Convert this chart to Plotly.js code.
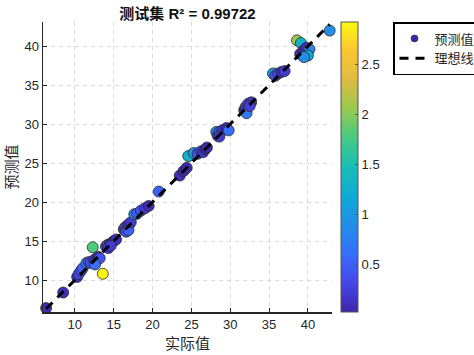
<!DOCTYPE html>
<html><head><meta charset="utf-8">
<script src="https://cdn.plot.ly/plotly-3.0.1.min.js"></script>
<style>body{margin:0;background:#fff}</style>
</head><body><div id="chart" style="width:474px;height:355px"></div>
<script>
const actual = [6.3, 8.5, 10.3, 10.5, 10.8, 11.0, 11.5, 11.8, 12.0, 12.5, 12.8, 13.0, 13.2, 12.6, 12.3, 13.6,
  14.0, 14.2, 14.5, 14.8, 15.0, 15.3, 14.3, 14.6, 16.3, 16.5, 16.8, 17.0, 16.6, 16.9, 17.2, 17.65,
  18.0, 18.5, 19.0, 19.5, 20.8, 23.5, 24.0, 24.4, 24.6, 25.3, 25.8, 26.2, 26.5, 26.8, 27.0,
  28.2, 28.4, 28.6, 29.0, 29.5, 29.8, 28.6, 31.8, 32.0, 32.3, 32.7, 32.1, 32.5,
  35.5, 35.8, 36.2, 36.6, 37.0, 38.6, 39.1, 39.0, 39.5, 39.8, 40.2, 40.0, 39.5, 42.8];
const predicted = [6.4, 8.4, 10.4, 10.8, 11.2, 11.5, 12.2, 12.3, 12.2, 12.6, 12.5, 13.0, 12.8, 12.0, 14.2, 10.8,
  14.3, 14.5, 14.6, 14.8, 15.0, 15.2, 14.1, 14.4, 16.5, 16.8, 17.0, 17.2, 16.2, 16.4, 17.4, 18.45,
  18.5, 18.9, 19.2, 19.5, 21.35, 23.4, 24.0, 24.4, 25.9, 26.3, 26.2, 26.5, 26.4, 26.8, 27.0,
  29.0, 28.5, 29.0, 29.2, 29.5, 29.2, 28.4, 31.8, 32.2, 32.6, 32.8, 31.4, 32.3,
  36.5, 36.2, 36.5, 36.7, 36.8, 40.75, 40.4, 39.0, 39.5, 39.8, 39.6, 38.8, 38.6, 42.0];
const absError = [0.1, 0.1, 0.1, 0.3, 0.4, 0.5, 0.8, 0.5, 0.3, 0.15, 0.3, 0.05, 0.4, 0.6, 1.8, 2.9,
  0.3, 0.3, 0.1, 0.05, 0.05, 0.1, 0.2, 0.2, 0.2, 0.3, 0.2, 0.2, 0.4, 0.5, 0.2, 0.9,
  0.5, 0.4, 0.2, 0.05, 0.5, 0.1, 0.05, 0.05, 1.3, 1.0, 0.4, 0.3, 0.15, 0.05, 0.05,
  0.9, 0.2, 0.4, 0.2, 0.05, 0.6, 0.2, 0.05, 0.2, 0.3, 0.15, 0.7, 0.25,
  1.0, 0.4, 0.3, 0.1, 0.2, 2.1, 1.3, 0.05, 0.05, 0.1, 0.8, 1.2, 0.9, 0.9];
const idealLine = [6.3, 42.8];
const seriesNames = ['预测值', '理想线'];

const parula = [
  [0.00, 'rgb(62,38,168)'], [0.10, 'rgb(70,70,232)'], [0.20, 'rgb(55,110,250)'],
  [0.30, 'rgb(33,142,232)'], [0.40, 'rgb(15,170,215)'], [0.50, 'rgb(25,190,180)'],
  [0.60, 'rgb(70,202,130)'], [0.70, 'rgb(150,202,80)'], [0.80, 'rgb(222,187,65)'],
  [0.90, 'rgb(253,196,50)'], [1.00, 'rgb(249,251,14)']];

const traces = [
  {x: actual, y: predicted, type: 'scatter', mode: 'markers', name: seriesNames[0], cliponaxis: false,
   showlegend: false,
   marker: {size: 11, color: absError, colorscale: parula, cmin: 0.02, cmax: 2.93,
     line: {color: '#2a2a2a', width: 0.8},
     colorbar: {x: 1.031, xanchor: 'left', xpad: 0, ypad: 0, y: 0.5, yanchor: 'middle', len: 1, lenmode: 'fraction',
       thickness: 17, thicknessmode: 'pixels', outlinewidth: 1, outlinecolor: '#555',
       tickvals: [0.5, 1, 1.5, 2, 2.5], ticktext: ['0.5', '1', '1.5', '2', '2.5'],
       ticks: 'inside', ticklen: 3, tickcolor: '#555',
       tickfont: {family: 'Liberation Sans, Arial, sans-serif', size: 13, color: '#262626'}}}},
  {x: [null], y: [null], type: 'scatter', mode: 'markers', name: seriesNames[0], showlegend: true,
   marker: {size: 7, color: 'rgb(62,38,168)', line: {color: '#2a2a2a', width: 0.6}}},
  {x: idealLine, y: idealLine, type: 'scatter', mode: 'lines', name: seriesNames[1],
   line: {color: '#000', width: 3, dash: '9px,7px'}}
];

const axisFont = {family: 'Liberation Sans, Arial, sans-serif', size: 13, color: '#262626'};
const layout = {
  width: 474, height: 355, paper_bgcolor: '#fff', plot_bgcolor: '#fff',
  margin: {l: 43, r: 142, t: 22, b: 43},
  title: {text: '<b>测试集 R² = 0.99722</b>', x: (43 + 289 / 2) / 474, xanchor: 'center', y: 0.962, yanchor: 'middle',
    font: {family: 'Liberation Sans, Noto Sans CJK SC, sans-serif', size: 15, color: '#111'}},
  xaxis: {range: [5.9, 43.1], tickvals: [10, 15, 20, 25, 30, 35, 40], showgrid: true,
    gridcolor: '#d9d9d9', griddash: '4px,4px', gridwidth: 1, zeroline: false,
    showline: true, linecolor: '#262626', linewidth: 1.5, ticks: 'inside', ticklen: 4, tickcolor: '#262626',
    tickfont: axisFont,
    title: {text: '实际值', font: {family: 'Noto Sans CJK SC, sans-serif', size: 15, color: '#262626'}, standoff: 7}},
  yaxis: {range: [5.9, 43.1], tickvals: [10, 15, 20, 25, 30, 35, 40], showgrid: true,
    gridcolor: '#d9d9d9', griddash: '4px,4px', gridwidth: 1, zeroline: false,
    showline: true, linecolor: '#262626', linewidth: 1.5, ticks: 'inside', ticklen: 4, tickcolor: '#262626',
    tickfont: axisFont,
    title: {text: '预测值', font: {family: 'Noto Sans CJK SC, sans-serif', size: 15, color: '#262626'}, standoff: 6}},
  showlegend: true,
  legend: {xref: 'container', yref: 'container', x: 393 / 474, xanchor: 'left', y: 1 - 22 / 355, yanchor: 'top',
    bordercolor: '#000', borderwidth: 1.5,
    bgcolor: '#fff', font: {family: 'Noto Sans CJK SC, sans-serif', size: 13, color: '#262626'},
    tracegroupgap: 0, itemwidth: 30}
};
Plotly.newPlot('chart', traces, layout, {displayModeBar: false, staticPlot: true});
</script></body></html>
